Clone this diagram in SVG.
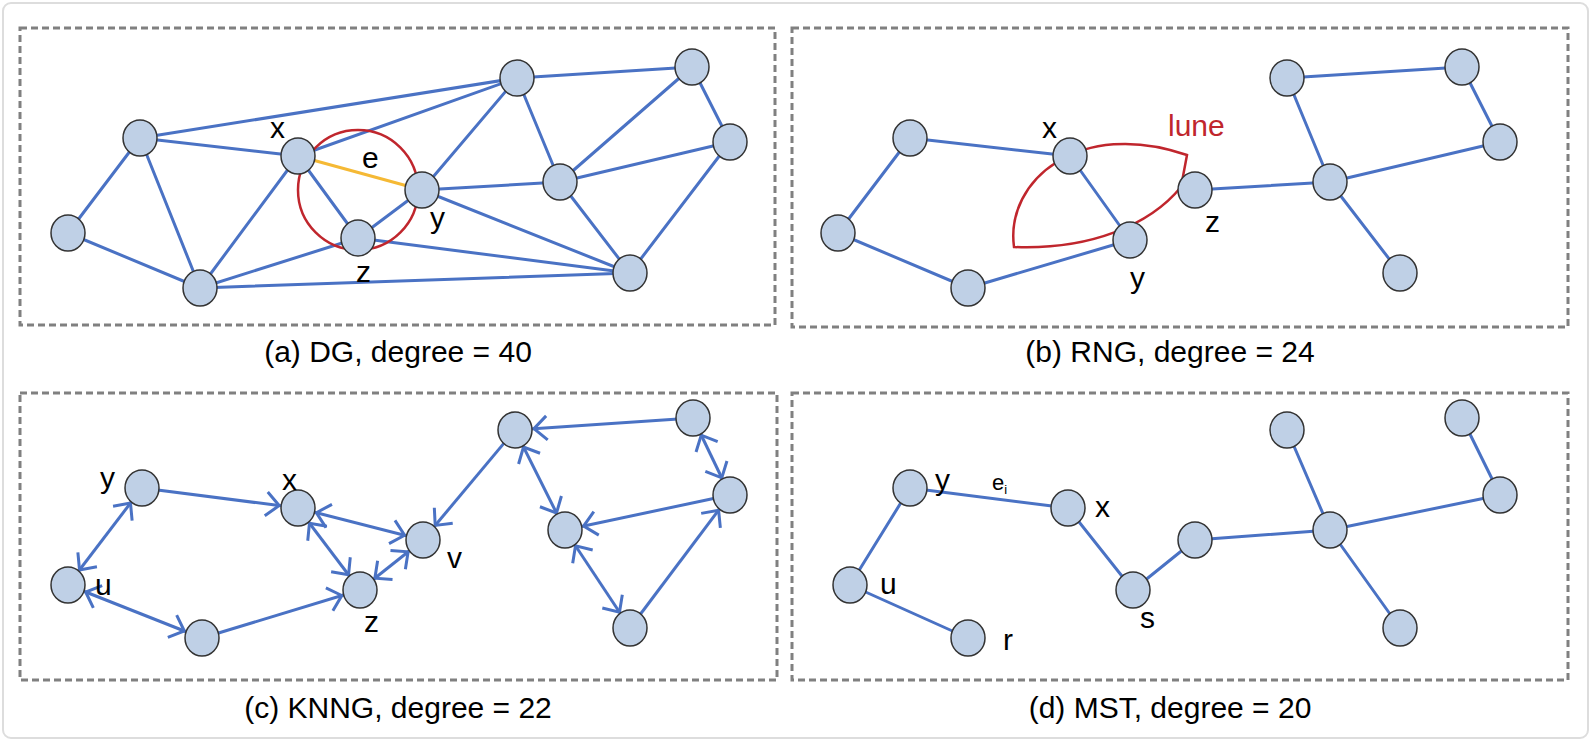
<svg xmlns="http://www.w3.org/2000/svg" width="1592" height="750" viewBox="0 0 1592 750">
<defs>
<marker id="ah" markerUnits="userSpaceOnUse" markerWidth="40" markerHeight="30" refX="34" refY="12" orient="auto-start-reverse" overflow="visible">
<path d="M2,0 L15,12 L2,24" fill="none" stroke="#4a72c4" stroke-width="3"/>
</marker>
</defs>
<style>
.frame{fill:none;stroke:#808080;stroke-width:3;stroke-dasharray:7,4}
.e{stroke:#4a72c4;stroke-width:3;fill:none}
.d{stroke:#4a72c4;stroke-width:3;fill:none;marker-end:url(#ah)}
.b{stroke:#4a72c4;stroke-width:3;fill:none;marker-end:url(#ah);marker-start:url(#ah)}
.n{fill:#bfd0e6;stroke:#333;stroke-width:1.5}
.l{font-family:"Liberation Sans",Arial,sans-serif;font-size:30px;fill:#000}
.cap{font-family:"Liberation Sans",Arial,sans-serif;font-size:30px;fill:#000;text-anchor:middle}
</style>
<rect x="0" y="0" width="1592" height="750" fill="#fff"/>
<rect x="3" y="3" width="1585" height="735" rx="8" fill="none" stroke="#ddd" stroke-width="2"/>
<g id="frames">
<rect class="frame" x="20" y="28" width="755" height="297"/>
<rect class="frame" x="792" y="28" width="776" height="299"/>
<rect class="frame" x="20" y="393" width="757" height="287"/>
<rect class="frame" x="792" y="393" width="776" height="287"/>
</g>
<g id="connectors">
<path class="e" d="M140,138L68,233M140,138L200,288M68,233L200,288M140,138L298,156M140,138L517,78M200,288L298,156M200,288L358,238M200,288L630,273M298,156L358,238M298,156L517,78M358,238L422,190M358,238L630,273M422,190L517,78M422,190L560,182M422,190L630,273M517,78L560,182M517,78L692,67M560,182L692,67M560,182L630,273M560,182L730,142M630,273L730,142M692,67L730,142"/>
<line x1="298" y1="156" x2="422" y2="190" stroke="#f5b935" stroke-width="3"/>
<circle cx="358" cy="190" r="60" fill="none" stroke="#c0262d" stroke-width="2.5"/>
<path class="e" d="M910,138L838,233M838,233L968,288M910,138L1070,156M968,288L1130,240M1070,156L1130,240M1195,190L1330,182M1287,78L1330,182M1330,182L1400,273M1330,182L1500,142M1287,78L1462,67M1462,67L1500,142"/>
<path d="M1014,247 C1005,180 1080,118 1187,155 L1181,187 C1150,225 1090,250 1014,247 Z" fill="none" stroke="#c0262d" stroke-width="2.5"/>
<line class="b" x1="68" y1="585" x2="142" y2="488"/>
<line class="d" x1="142" y1="488" x2="298" y2="508"/>
<line class="b" x1="68" y1="585" x2="202" y2="638"/>
<line class="d" x1="202" y1="638" x2="360" y2="590"/>
<line class="b" x1="298" y1="508" x2="423" y2="540"/>
<line class="b" x1="298" y1="508" x2="360" y2="590"/>
<line class="b" x1="360" y1="590" x2="423" y2="540"/>
<line class="d" x1="515" y1="430" x2="423" y2="540"/>
<line class="d" x1="693" y1="418" x2="515" y2="430"/>
<line class="b" x1="515" y1="430" x2="565" y2="530"/>
<line class="b" x1="693" y1="418" x2="730" y2="495"/>
<line class="d" x1="730" y1="495" x2="565" y2="530"/>
<line class="b" x1="565" y1="530" x2="630" y2="628"/>
<line class="d" x1="630" y1="628" x2="730" y2="495"/>
<path class="e" d="M850,585L910,488M910,488L1068,508M1068,508L1133,590M1133,590L1195,540M850,585L968,638M1195,540L1330,530M1287,430L1330,530M1330,530L1500,495M1330,530L1400,628M1462,418L1500,495"/>
</g>
<g id="nodes">
<g id="a-nodes">
<ellipse class="n" cx="140" cy="138" rx="17" ry="18"/><ellipse class="n" cx="68" cy="233" rx="17" ry="18"/><ellipse class="n" cx="200" cy="288" rx="17" ry="18"/><ellipse class="n" cx="298" cy="156" rx="17" ry="18"/><ellipse class="n" cx="358" cy="238" rx="17" ry="18"/><ellipse class="n" cx="422" cy="190" rx="17" ry="18"/><ellipse class="n" cx="517" cy="78" rx="17" ry="18"/><ellipse class="n" cx="560" cy="182" rx="17" ry="18"/><ellipse class="n" cx="630" cy="273" rx="17" ry="18"/><ellipse class="n" cx="692" cy="67" rx="17" ry="18"/><ellipse class="n" cx="730" cy="142" rx="17" ry="18"/>
</g>
<g id="b-nodes">
<ellipse class="n" cx="910" cy="138" rx="17" ry="18"/><ellipse class="n" cx="838" cy="233" rx="17" ry="18"/><ellipse class="n" cx="968" cy="288" rx="17" ry="18"/><ellipse class="n" cx="1070" cy="156" rx="17" ry="18"/><ellipse class="n" cx="1130" cy="240" rx="17" ry="18"/><ellipse class="n" cx="1195" cy="190" rx="17" ry="18"/><ellipse class="n" cx="1287" cy="78" rx="17" ry="18"/><ellipse class="n" cx="1330" cy="182" rx="17" ry="18"/><ellipse class="n" cx="1400" cy="273" rx="17" ry="18"/><ellipse class="n" cx="1462" cy="67" rx="17" ry="18"/><ellipse class="n" cx="1500" cy="142" rx="17" ry="18"/>
</g>
<g id="c-nodes">
<ellipse class="n" cx="142" cy="488" rx="17" ry="18"/><ellipse class="n" cx="298" cy="508" rx="17" ry="18"/><ellipse class="n" cx="423" cy="540" rx="17" ry="18"/><ellipse class="n" cx="68" cy="585" rx="17" ry="18"/><ellipse class="n" cx="360" cy="590" rx="17" ry="18"/><ellipse class="n" cx="202" cy="638" rx="17" ry="18"/><ellipse class="n" cx="515" cy="430" rx="17" ry="18"/><ellipse class="n" cx="693" cy="418" rx="17" ry="18"/><ellipse class="n" cx="730" cy="495" rx="17" ry="18"/><ellipse class="n" cx="565" cy="530" rx="17" ry="18"/><ellipse class="n" cx="630" cy="628" rx="17" ry="18"/>
</g>
<g id="d-nodes">
<ellipse class="n" cx="910" cy="488" rx="17" ry="18"/><ellipse class="n" cx="1068" cy="508" rx="17" ry="18"/><ellipse class="n" cx="850" cy="585" rx="17" ry="18"/><ellipse class="n" cx="968" cy="638" rx="17" ry="18"/><ellipse class="n" cx="1133" cy="590" rx="17" ry="18"/><ellipse class="n" cx="1195" cy="540" rx="17" ry="18"/><ellipse class="n" cx="1287" cy="430" rx="17" ry="18"/><ellipse class="n" cx="1462" cy="418" rx="17" ry="18"/><ellipse class="n" cx="1500" cy="495" rx="17" ry="18"/><ellipse class="n" cx="1330" cy="530" rx="17" ry="18"/><ellipse class="n" cx="1400" cy="628" rx="17" ry="18"/>
</g>
</g>
<g id="labels">
<text class="l" x="270" y="138">x</text><text class="l" x="362" y="168">e</text><text class="l" x="430" y="228">y</text><text class="l" x="356" y="282">z</text>
<text class="l" x="1042" y="138">x</text><text class="l" x="1205" y="232">z</text><text class="l" x="1130" y="288">y</text><text x="1168" y="136" style="font-family:'Liberation Sans',Arial,sans-serif;font-size:30px;fill:#c0262d">lune</text>
<text class="l" x="100" y="488">y</text><text class="l" x="282" y="490">x</text><text class="l" x="95" y="595">u</text><text class="l" x="447" y="568">v</text><text class="l" x="364" y="632">z</text>
<text class="l" x="935" y="490">y</text><text x="992" y="490" style="font-family:'Liberation Sans',Arial,sans-serif;font-size:22px">e<tspan font-size="13" dy="4">i</tspan></text><text class="l" x="1095" y="517">x</text><text class="l" x="880" y="594">u</text><text class="l" x="1003" y="650">r</text><text class="l" x="1140" y="628">s</text>
</g>
<g id="captions">
<text class="cap" x="398" y="362">(a) DG, degree = 40</text>
<text class="cap" x="1170" y="362">(b) RNG, degree = 24</text>
<text class="cap" x="398" y="718">(c) KNNG, degree = 22</text>
<text class="cap" x="1170" y="718">(d) MST, degree = 20</text>
</g>
</svg>
